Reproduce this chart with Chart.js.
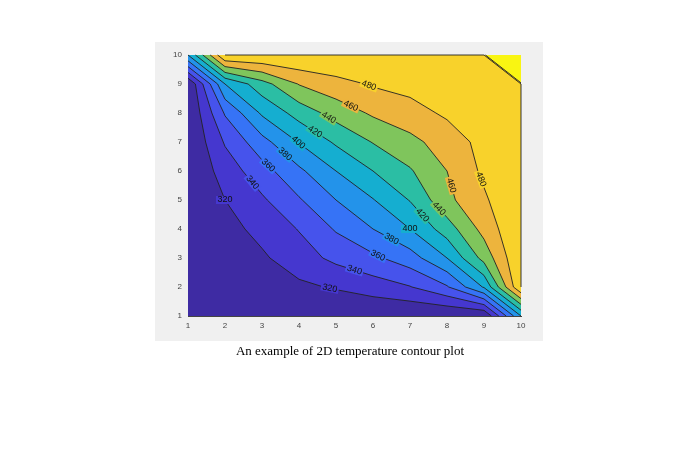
<!DOCTYPE html>
<html><head><meta charset="utf-8">
<script src="https://cdn.jsdelivr.net/npm/chart.js@4"></script>
<style>body{margin:0;background:#fff}#w{position:relative;width:700px;height:450px}
#cap{position:absolute;left:0;width:700px;top:343px;text-align:center;font:13px "Liberation Serif",serif;color:#000}</style>
</head><body><div id="w"><canvas id="c" width="700" height="450"></canvas><div id="cap">An example of 2D temperature contour plot</div></div>
<script>
const xs=[1,2,3,4,5,6,7,8,9,10];
const ys=[1,2,3,4,5,6,7,8,9,10];
// temps[j][i] -> value at x=xs[i], y=ys[j]
const temps=[
[300,300,300,300,300,300,300,300,300,400],
[300,306,311,316,322,330,339,358,402,500],
[300,309,317,331,345,356,371,400,447,500],
[300,313,326,341,362,380,400,430,467,500],
[300,320,337,358,380,399,421,455,477,500],
[300,329,352,376,400,420,438,460,484,500],
[300,342,373,401,423,441,454,470,486,500],
[300,362,403,428,448,463,473,483,491,500],
[300,400,432,461,473,482,486,491,495,500],
[400,500,500,500,500,500,500,500,500,1000]];
const levels=[320,340,360,380,400,420,440,460,480,500,520];
const labelLevels=[320,340,360,380,400,420,440,460,480];
const bandColors=['#3e2ba3','#4537cf','#4653ec','#3673f6','#2393ea','#15aed0','#2bbea4','#7fc55c','#edb43d','#f8d22b','#f9d42b','#f9f512'];
const tickVals=[1,2,3,4,5,6,7,8,9,10];

function clip(poly,L){const out=[];for(let k=0;k<poly.length;k++){const a=poly[k],b=poly[(k+1)%poly.length];const ai=a.v>=L,bi=b.v>=L;
 if(ai)out.push(a);if(ai!==bi){const t=(L-a.v)/(b.v-a.v);out.push({x:a.x+t*(b.x-a.x),y:a.y+t*(b.y-a.y),v:L});}}return out;}
const contourPlugin={id:'contour',
beforeDraw(ch){const c=ch.ctx;c.save();c.fillStyle='#f0f0f0';c.fillRect(155,42,388,299);c.restore();},
beforeDatasetsDraw(ch){const c=ch.ctx,sx=ch.scales.x,sy=ch.scales.y;c.save();
 const P=(x,y)=>[sx.getPixelForValue(x),sy.getPixelForValue(y)];
 const cells=[];
 for(let j=0;j<ys.length-1;j++)for(let i=0;i<xs.length-1;i++)
  cells.push([{x:xs[i],y:ys[j],v:temps[j][i]},{x:xs[i+1],y:ys[j],v:temps[j][i+1]},{x:xs[i+1],y:ys[j+1],v:temps[j+1][i+1]},{x:xs[i],y:ys[j+1],v:temps[j+1][i]}]);
 const addPoly=pl=>{if(pl.length<3)return;pl.forEach((p,k)=>{const q=P(p.x,p.y);k?c.lineTo(q[0],q[1]):c.moveTo(q[0],q[1]);});c.closePath();};
 c.beginPath();cells.forEach(addPoly);c.fillStyle=bandColors[0];c.fill();
 const segs={};
 levels.forEach((L,k)=>{segs[L]=[];c.beginPath();
  cells.forEach(poly=>{addPoly(clip(poly,L));
   const pts=[];for(let e=0;e<4;e++){const a=poly[e],b=poly[(e+1)%4];if((a.v>=L)!==(b.v>=L)){const t=(L-a.v)/(b.v-a.v);pts.push([a.x+t*(b.x-a.x),a.y+t*(b.y-a.y)]);}}
   for(let m=0;m+1<pts.length;m+=2)segs[L].push([pts[m],pts[m+1],k+1]);});
  c.fillStyle=bandColors[k+1];c.fill();});
 c.strokeStyle='#222';c.lineWidth=0.9;
 levels.forEach(L=>segs[L].forEach(s=>{const a=P(...s[0]),b=P(...s[1]);c.beginPath();c.moveTo(a[0],a[1]);c.lineTo(b[0],b[1]);c.stroke();}));
 c.font='9px "Liberation Sans",Arial';c.textAlign='center';c.textBaseline='middle';
 labelLevels.forEach(L=>{const arr=segs[L].slice().sort((p,q)=>(p[0][0]+p[1][0]-p[0][1]-p[1][1])-(q[0][0]+q[1][0]-q[0][1]-q[1][1]));if(!arr.length)return;
  [0.3,0.7].forEach(f=>{
  const s=arr[Math.floor(arr.length*f)];const a=P(...s[0]),b=P(...s[1]);let ang=Math.atan2(b[1]-a[1],b[0]-a[0]);if(ang>Math.PI/2)ang-=Math.PI;if(ang<-Math.PI/2)ang+=Math.PI;
  c.save();c.translate((a[0]+b[0])/2,(a[1]+b[1])/2);c.rotate(ang);c.fillStyle=bandColors[s[2]];c.fillRect(-9,-4,18,8);c.fillStyle='#111';c.fillText(String(L),0,0);c.restore();});});
 c.restore();}};
new Chart(document.getElementById('c'),{type:'scatter',data:{datasets:[{data:[],pointRadius:0}]},
plugins:[contourPlugin],
options:{responsive:false,animation:false,plugins:{legend:{display:false},tooltip:{enabled:false}},
layout:{padding:{left:172,right:179,top:55,bottom:120}},
scales:{x:{type:'linear',min:1,max:10,afterBuildTicks:s=>{s.ticks=tickVals.map(v=>({value:v}));},afterFit:s=>{s.height=14;},
 grid:{display:false,drawTicks:false},border:{display:true,color:'#444'},ticks:{color:'#444',font:{size:8},padding:5}},
 y:{type:'linear',min:1,max:10,afterBuildTicks:s=>{s.ticks=tickVals.map(v=>({value:v}));},afterFit:s=>{s.width=16;},
 grid:{display:false,drawTicks:false},border:{display:true,color:'#444'},ticks:{color:'#444',font:{size:8},padding:6}}}}});
</script></body></html>
